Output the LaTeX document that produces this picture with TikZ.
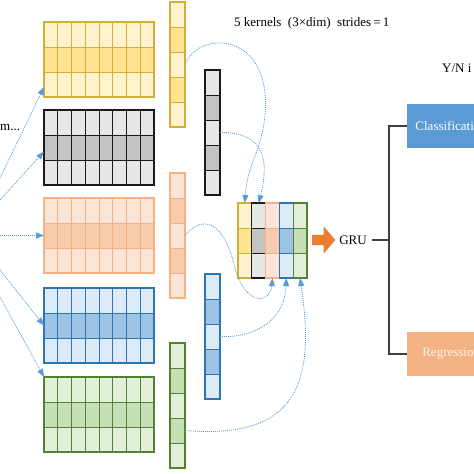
\documentclass[tikz,border=0pt]{standalone}
\usepackage{fontspec}
\setmainfont{Liberation Serif}
\usetikzlibrary{arrows.meta,calc,shapes.arrows}

\definecolor{ylwL}{HTML}{FFF2CC}
\definecolor{ylwD}{HTML}{FFE38F}
\definecolor{ylwB}{HTML}{D4AF37}
\definecolor{gryL}{HTML}{E7E7E7}
\definecolor{gryD}{HTML}{C3C3C3}
\definecolor{gryB}{HTML}{1A1A1A}
\definecolor{orgL}{HTML}{FCE4D6}
\definecolor{orgD}{HTML}{F8CBAD}
\definecolor{orgB}{HTML}{F4B183}
\definecolor{bluL}{HTML}{DDEBF7}
\definecolor{bluD}{HTML}{9DC3E6}
\definecolor{bluB}{HTML}{2E75B6}
\definecolor{grnL}{HTML}{E2F0D9}
\definecolor{grnD}{HTML}{C5E0B4}
\definecolor{grnB}{HTML}{548235}
\definecolor{flow}{HTML}{5B9BD5}
\definecolor{gruarrow}{HTML}{ED7D31}
\definecolor{clsfill}{HTML}{5B9BD5}
\definecolor{regfill}{HTML}{F4B183}
\definecolor{regtext}{HTML}{FFF5EA}

% embedding map: name, x, y, colour prefix
\newcommand{\embmap}[4]{%
  \node[mapbox,anchor=north west] (#1) at (#2,#3) {};
  \fill[#4L] (#1.north west) rectangle (#1.south east);
  \fill[#4D] ($(#1.north west)+(0,25)$) rectangle ($(#1.north east)+(0,50)$);
  \foreach \col in {1,...,7}
    \draw[#4B,line width=0.9pt] ($(#1.north west)+(13.75*\col,0)$) -- ($(#1.south west)+(13.75*\col,0)$);
  \foreach \row in {25,50}
    \draw[#4B,line width=0.9pt] ($(#1.north west)+(0,\row)$) -- ($(#1.north east)+(0,\row)$);
  \draw[#4B,line width=1.1pt] (#1.north west) rectangle (#1.south east);
}
% kernel column: name, x, y, colour prefix
\newcommand{\kernelcol}[4]{%
  \node[kerbox,anchor=north west] (#1) at (#2,#3) {};
  \fill[#4L] (#1.north west) rectangle (#1.south east);
  \foreach \row in {25,75}
    \fill[#4D] ($(#1.north west)+(0,\row)$) rectangle ($(#1.north east)+(0,\row+25)$);
  \foreach \row in {25,50,75,100}
    \draw[#4B,line width=0.9pt] ($(#1.north west)+(0,\row)$) -- ($(#1.north east)+(0,\row)$);
  \draw[#4B,line width=1.1pt] (#1.north west) rectangle (#1.south east);
}
% column of the feature matrix: name, x, colour prefix
\newcommand{\featcol}[3]{%
  \node[colbox,anchor=north west] (#1) at (#2,203) {};
  \fill[#3L] (#1.north west) rectangle (#1.south east);
  \fill[#3D] ($(#1.north west)+(0,25)$) rectangle ($(#1.north east)+(0,50)$);
  \foreach \row in {25,50}
    \draw[#3B,line width=0.9pt] ($(#1.north west)+(0,\row)$) -- ($(#1.north east)+(0,\row)$);
  \draw[#3B,line width=1.1pt] (#1.north west) rectangle (#1.south east);
}

\begin{document}
\begin{tikzpicture}[
  x=1pt,y=-1pt,
  lbl/.style={font=\fontsize{13}{15}\selectfont,inner sep=3pt},
  mapbox/.style={inner sep=0pt,outer sep=0pt,minimum width=110pt,minimum height=75pt},
  kerbox/.style={inner sep=0pt,outer sep=0pt,minimum width=15pt,minimum height=125pt},
  colbox/.style={inner sep=0pt,outer sep=0pt,minimum width=13.8pt,minimum height=75pt},
  headbox/.style={font=\fontsize{13}{15}\selectfont,minimum width=88pt,minimum height=44pt,inner sep=0pt},
  flowarr/.style={draw=flow,line width=0.8pt,dash pattern=on 1pt off 1pt,-{Triangle[length=8pt,width=6pt]}},
  tree/.style={draw=black!75,line width=1.2pt}]
  \useasboundingbox (0,0) rectangle (474,474);
  \clip (0,0) rectangle (474,474);

  \embmap{mY}{44}{22}{ylw}
  \embmap{mG}{44}{110}{gry}
  \embmap{mO}{44}{198}{org}
  \embmap{mB}{44}{288}{blu}
  \embmap{mN}{44}{377}{grn}

  \kernelcol{ky}{170}{2}{ylw}
  \kernelcol{kg}{205}{70}{gry}
  \kernelcol{ko}{170}{173}{org}
  \kernelcol{kb}{205}{274}{blu}
  \kernelcol{kn}{170}{343}{grn}

  \featcol{c1}{238}{ylw}
  \featcol{c2}{251.8}{gry}
  \featcol{c3}{265.6}{org}
  \featcol{c4}{279.4}{blu}
  \featcol{c5}{293.2}{grn}

  \node[lbl,anchor=west,inner sep=0pt] (inp) at (0,128) {m...};
  \node[lbl,anchor=west] (kinfo) at (231,23) {5 kernels\ \ (3×dim)\ \ strides\,=\,1};
  \node[lbl,anchor=west] (yn) at (439,68) {Y/N i};
  \node[lbl] (gru) at (353,240) {GRU};
  \node[single arrow,fill=gruarrow,minimum height=23pt,minimum width=27pt,inner sep=5pt,
        single arrow head extend=8.5pt,single arrow tip angle=100] (conv2gru) at (321.5,240) {};
  \node[headbox,fill=clsfill,text=white,anchor=west] (cls) at (407,126) {Classification};
  \node[headbox,fill=regfill,text=regtext,anchor=west] (reg) at (407,354) {Regression};
  \coordinate (jn) at (389,240);

  \coordinate (sy) at (0,178);
  \coordinate (sg) at (0,200);
  \coordinate (so) at (0,235.5);
  \coordinate (sb) at (0,270);
  \coordinate (sn) at (0,297);
  \draw[flowarr] (sy) -- ($(mY.south west)+(0,-10)$);
  \draw[flowarr] (sg) -- ($(mG.west)+(0,4)$);
  \draw[flowarr] (so) -- (mO.west);
  \draw[flowarr] (sb) -- (mB.west);
  \draw[flowarr] (sn) -- (mN.north west);

  \draw[flowarr] (ky.east) .. controls (198,30) and (272,30) .. (265,115) .. controls (262,150) and (247,165) .. (c1.north);
  \draw[flowarr] (kg.east) .. controls (256,132) and (272,150) .. (c2.north);
  \draw[flowarr] (ko.east) .. controls (205,212) and (225,225) .. (235,268) .. controls (245,305) and (270,305) .. (c3.south);
  \draw[flowarr] (kb.east) .. controls (258,338) and (285,318) .. (c4.south);
  \draw[flowarr] ($(kn.east)+(0,25)$) .. controls (300,440) and (315,380) .. (c5.south);

  \draw[tree,shorten <=2pt] (gru.east) -- (jn);
  \draw[tree] (cls.west) -| (jn) |- (reg.west);
\end{tikzpicture}
\end{document}
